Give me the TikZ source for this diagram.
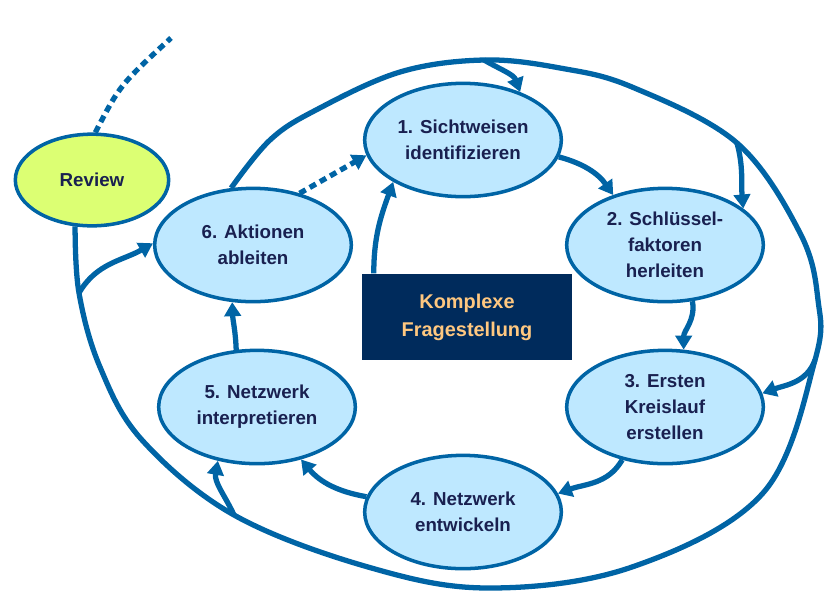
\documentclass[tikz,border=0pt]{standalone}
\usepackage{fontspec}
\setmainfont{Liberation Sans}
\usetikzlibrary{shapes.geometric,arrows.meta}
\definecolor{linie}{RGB}{0,100,165}
\definecolor{hell}{RGB}{190,232,255}
\definecolor{gelb}{RGB}{220,255,115}
\definecolor{dunkel}{RGB}{0,43,92}
\definecolor{schrift}{RGB}{25,32,80}
\definecolor{orange}{RGB}{255,200,128}
\tikzset{
	schritt/.style={ellipse, draw=linie, line width=3pt, fill=hell, minimum width=5.9cm, minimum height=3.4cm,
		text=schrift, align=center, font=\bfseries\fontsize{16}{22}\selectfont},
	pfeil/.style={linie, line width=4.5pt, -{Triangle[length=12pt,width=14pt]}},
	strich/.style={linie, line width=4.5pt, dash pattern=on 6pt off 4pt}
}
\begin{document}
\begin{tikzpicture}[x=0.03cm,y=-0.03cm]
	\useasboundingbox (0,0) rectangle (825,604);
	\node[schritt] (n1) at (463,140) {1. Sichtweisen\\identifizieren};
	\node[schritt] (n2) at (665,245) {2. Schlüssel-\\faktoren\\herleiten};
	\node[schritt] (n3) at (665,407) {3. Ersten\\Kreislauf\\erstellen};
	\node[schritt] (n4) at (463,512) {4. Netzwerk\\entwickeln};
	\node[schritt] (n5) at (257,407) {5. Netzwerk\\interpretieren};
	\node[schritt] (n6) at (253,245) {6. Aktionen\\ableiten};
	\node[schritt, fill=gelb, minimum width=4.6cm, minimum height=2.75cm] (review) at (92,180) {Review};
	\node[fill=dunkel, text=orange, minimum width=6.3cm, minimum height=2.6cm, align=center,
		font=\bfseries\fontsize{17}{24}\selectfont] (frage) at (467,317) {Komplexe\\Fragestellung};
	% outer loop
	\coordinate (oben) at (484,60);
	\coordinate (r1) at (737,143);
	\coordinate (rechts) at (815,360);
	\coordinate (u1) at (234,515);
	\coordinate (l1) at (79,293);
	\draw[linie, line width=4.5pt] plot[smooth, tension=0.6] coordinates {
		(n6.111) (270,140) (316,110) (400,72) (oben) (560,68) (632,87) (r1) (800,233) (818,300) (rechts)
		(763,493) (632,567) (489,588) (368,567) (u1) (142,440) (100,367) (l1) (review.250)};
	\path[pfeil] (oben) edge[out=-30, in=110] (n1.40)
		(r1) edge[out=-75, in=95] (n2.25)
		(rechts) edge[out=-110, in=20] (n3.8)
		(u1) edge[out=115, in=-100] (n5.-126)
		(l1) edge[out=60, in=210] (n6.179);
	% inner cycle
	\path[pfeil] (n1.-10) edge[out=-15, in=125] (n2.136)
		(n2.-64) edge[out=-80, in=90] (n3.72)
		(n3.-129) edge[out=-120, in=20] (n4.11)
		(n4.171) edge[out=170, in=-50] (n5.-50)
		(n5.110) edge[out=92, in=-88] (n6.-110)
		(frage.north west) ++(12,0) edge[out=90, in=-110] (n1.-149);
	\draw[strich, -{Triangle[length=12pt,width=14pt]}] (n6.48) -- (n1.189);
	\draw[strich] (review.86) .. controls (120,85) .. (171,38);
\end{tikzpicture}
\end{document}
